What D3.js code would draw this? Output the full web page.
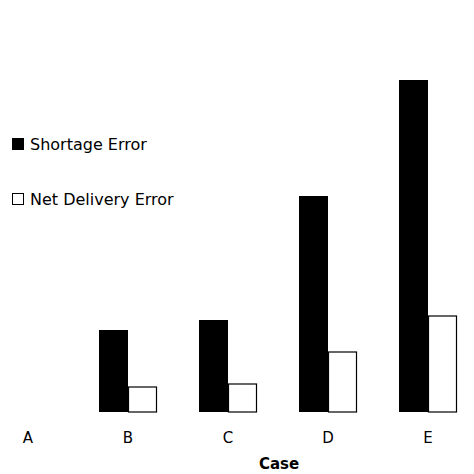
<!DOCTYPE html>
<html>
<head>
<meta charset="utf-8">
<script src="https://d3js.org/d3.v7.min.js"></script>
<style>
  body { margin: 0; background: #fff; }
  text { font-family: "DejaVu Sans", sans-serif; }
</style>
</head>
<body>
<script>
  // data
  const cases = ["A", "B", "C", "D", "E"];
  const shortage = [0, 82, 92, 216, 332];
  const netDelivery = [0, 25, 28, 60, 96];

  const width = 474, height = 474;
  const svg = d3.select("body").append("svg")
    .attr("width", width).attr("height", height);

  const x = d3.scaleBand().domain(cases).range([-22, 478]);
  const y = d3.scaleLinear().domain([0, 332]).range([412, 80]);
  const barW = 29;

  const g = svg.append("g");
  cases.forEach((c, i) => {
    const cx = x(c) + x.bandwidth() / 2;
    if (shortage[i] > 0) {
      g.append("rect")
        .attr("x", cx - barW).attr("y", y(shortage[i]))
        .attr("width", barW).attr("height", y(0) - y(shortage[i]))
        .attr("fill", "#000");
    }
    if (netDelivery[i] > 0) {
      g.append("rect")
        .attr("x", cx + 0.5).attr("y", y(netDelivery[i]))
        .attr("width", barW - 1).attr("height", y(0) - y(netDelivery[i]))
        .attr("fill", "#fff").attr("stroke", "#000").attr("stroke-width", 1.2);
    }
    g.append("text").attr("x", cx).attr("y", 443)
      .attr("text-anchor", "middle").attr("font-size", 15).text(c);
  });

  svg.append("text").attr("x", 279).attr("y", 469)
    .attr("text-anchor", "middle").attr("font-size", 15)
    .attr("font-weight", "bold").text("Case");

  // legend
  svg.append("rect").attr("x", 12).attr("y", 138).attr("width", 12).attr("height", 12).attr("fill", "#000");
  svg.append("text").attr("x", 30).attr("y", 150).attr("font-size", 16).text("Shortage Error");
  svg.append("rect").attr("x", 12.5).attr("y", 193.5).attr("width", 11).attr("height", 11)
    .attr("fill", "#fff").attr("stroke", "#000");
  svg.append("text").attr("x", 30).attr("y", 205).attr("font-size", 16).text("Net Delivery Error");
</script>
</body>
</html>
